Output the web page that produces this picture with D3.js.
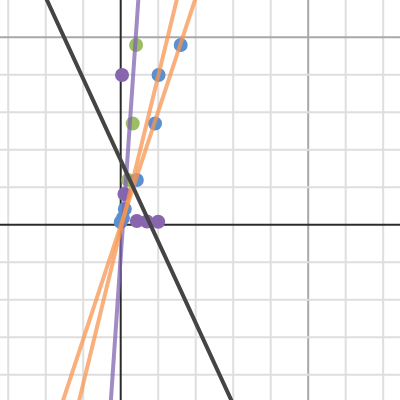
<!DOCTYPE html>
<html><head><meta charset="utf-8">
<script src="https://cdn.jsdelivr.net/npm/d3@7"></script>
<style>html,body{margin:0;padding:0;background:#fff;overflow:hidden}</style>
</head><body>
<svg id="c" width="400" height="400"></svg>
<script>
// data (graph units)
const xTicks = [-3,-2,-1,0,1,2,3,4,5,6,7];
const yTicks = [-4,-3,-2,-1,0,1,2,3,4,5];
const bluePoints = [[1.6,4.79],[1.01,3.99],[0.915,2.70],[0.43,1.19],[0.11,0.42],[0.06,0.18],[0.0,0.07]];
const greenPoints = [[0.41,4.79],[0.32,2.70],[0.2,1.19]];
const purplePoints = [[0.035,3.99],[0.1,0.82],[0.43,0.1],[0.7,0.085],[1.0,0.08]];
// lines as [slope, intercept]
const blackLine = [-2.17, 1.72];
const purpleLine = [14.6, -0.86];
const orangeLine1 = [4.105, -0.14];
const orangeLine2 = [3.035, -0.02];

const W = 400, H = 400;
const x = d3.scaleLinear().domain([-3.219, 7.448]).range([0, W]);
const y = d3.scaleLinear().domain([-4.675, 5.992]).range([H, 0]);
const svg = d3.select('#c');

// grid
const grid = svg.append('g');
grid.selectAll('.vx').data(xTicks.filter(t => t !== 0)).join('line')
  .attr('x1', d => x(d)).attr('x2', d => x(d)).attr('y1', 0).attr('y2', H)
  .attr('stroke', d => d % 5 === 0 ? '#a8a8a8' : '#dedede').attr('stroke-width', 2);
grid.selectAll('.hy').data(yTicks.filter(t => t !== 0)).join('line')
  .attr('y1', d => y(d)).attr('y2', d => y(d)).attr('x1', 0).attr('x2', W)
  .attr('stroke', d => d % 5 === 0 ? '#a8a8a8' : '#dedede').attr('stroke-width', 2);
// axes
svg.append('line').attr('x1', x(0)).attr('x2', x(0)).attr('y1', 0).attr('y2', H)
  .attr('stroke', '#2b2b2b').attr('stroke-width', 2);
svg.append('line').attr('y1', y(0)).attr('y2', y(0)).attr('x1', 0).attr('x2', W)
  .attr('stroke', '#2b2b2b').attr('stroke-width', 2);

// points
function dots(data, color) {
  svg.append('g').selectAll('circle').data(data).join('circle')
    .attr('cx', d => x(d[0])).attr('cy', d => y(d[1])).attr('r', 7)
    .attr('fill', color);
}
dots(purplePoints, '#8866ad');
dots(greenPoints, '#9dbd64');
dots(bluePoints, '#5b8fce');

// lines
function drawLine(p, color) {
  const [x0, x1] = x.domain();
  svg.append('line')
    .attr('x1', x(x0)).attr('y1', y(p[0]*x0 + p[1]))
    .attr('x2', x(x1)).attr('y2', y(p[0]*x1 + p[1]))
    .attr('stroke', color).attr('stroke-width', 4).attr('stroke-linecap', 'round');
}
drawLine(purpleLine, 'rgba(128,100,178,0.75)');
drawLine(orangeLine1, 'rgba(248,150,80,0.75)');
drawLine(orangeLine2, 'rgba(248,150,80,0.75)');
drawLine(blackLine, '#444444');
</script>
</body></html>
